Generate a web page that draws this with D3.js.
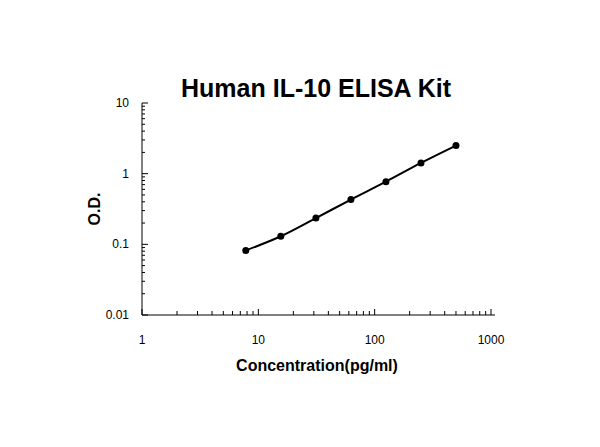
<!DOCTYPE html>
<html><head><meta charset="utf-8">
<script src="https://cdn.jsdelivr.net/npm/d3@7"></script>
<style>body{margin:0;background:#fff}</style>
</head><body>
<svg id="chart" width="600" height="447"></svg>
<script>
const concentrations = [7.8, 15.6, 31.25, 62.5, 125, 250, 500];
const odValues = [0.082, 0.13, 0.235, 0.43, 0.77, 1.42, 2.5];
const xTickLabels = [1, 10, 100, 1000];
const yTickLabels = [0.01, 0.1, 1, 10];

const svg = d3.select("#chart");
const x = d3.scaleLog().domain([1, 1000]).range([142, 491]);
const y = d3.scaleLog().domain([0.01, 10]).range([315, 103]);
const font = "Arial, 'Liberation Sans', sans-serif";

svg.append("text").attr("x", 316).attr("y", 97).attr("text-anchor", "middle")
    .attr("font-family", font).attr("font-weight", "bold").attr("font-size", 25)
    .text("Human IL-10 ELISA Kit");

// minor ticks
const xMinor = [], yMinor = [];
for (let d = 1; d < 1000; d *= 10) for (let k = 2; k <= 9; k++) xMinor.push(d * k);
for (let d = 0.01; d < 9; d *= 10) for (let k = 2; k <= 9; k++) yMinor.push(d * k);

const g = svg.append("g").attr("stroke", "#000").attr("stroke-width", 1);
g.append("line").attr("x1", 142).attr("x2", 495).attr("y1", 315).attr("y2", 315);
g.append("line").attr("x1", 142).attr("x2", 142).attr("y1", 103).attr("y2", 315);
g.selectAll(".xm").data(xMinor).enter().append("line")
    .attr("x1", d => x(d)).attr("x2", d => x(d)).attr("y1", 315).attr("y2", 311);
g.selectAll(".xM").data(xTickLabels).enter().append("line")
    .attr("x1", d => x(d)).attr("x2", d => x(d)).attr("y1", 315).attr("y2", 309);
g.selectAll(".ym").data(yMinor).enter().append("line")
    .attr("y1", d => y(d)).attr("y2", d => y(d)).attr("x1", 142).attr("x2", 145);
g.selectAll(".yM").data(yTickLabels).enter().append("line")
    .attr("y1", d => y(d)).attr("y2", d => y(d)).attr("x1", 142).attr("x2", 148);

svg.selectAll(".xl").data(xTickLabels).enter().append("text")
    .attr("x", d => x(d)).attr("y", 344).attr("text-anchor", "middle")
    .attr("font-family", font).attr("font-size", 12).text(d => d);
svg.selectAll(".yl").data(yTickLabels).enter().append("text")
    .attr("x", 129).attr("y", d => y(d) + 4).attr("text-anchor", "end")
    .attr("font-family", font).attr("font-size", 12).text(d => d);

svg.append("text").attr("x", 317).attr("y", 371).attr("text-anchor", "middle")
    .attr("font-family", font).attr("font-weight", "bold").attr("font-size", 16)
    .text("Concentration(pg/ml)");
svg.append("text").attr("transform", "translate(100,209) rotate(-90)").attr("text-anchor", "middle")
    .attr("font-family", font).attr("font-weight", "bold").attr("font-size", 16)
    .text("O.D.");

const pts = concentrations.map((c, i) => [c, odValues[i]]);
svg.append("path").datum(pts)
    .attr("fill", "none").attr("stroke", "#000").attr("stroke-width", 2)
    .attr("d", d3.line().x(d => x(d[0])).y(d => y(d[1])).curve(d3.curveMonotoneX));
svg.selectAll(".pt").data(pts).enter().append("circle")
    .attr("cx", d => x(d[0])).attr("cy", d => y(d[1])).attr("r", 3.5).attr("fill", "#000");
</script>
</body></html>
